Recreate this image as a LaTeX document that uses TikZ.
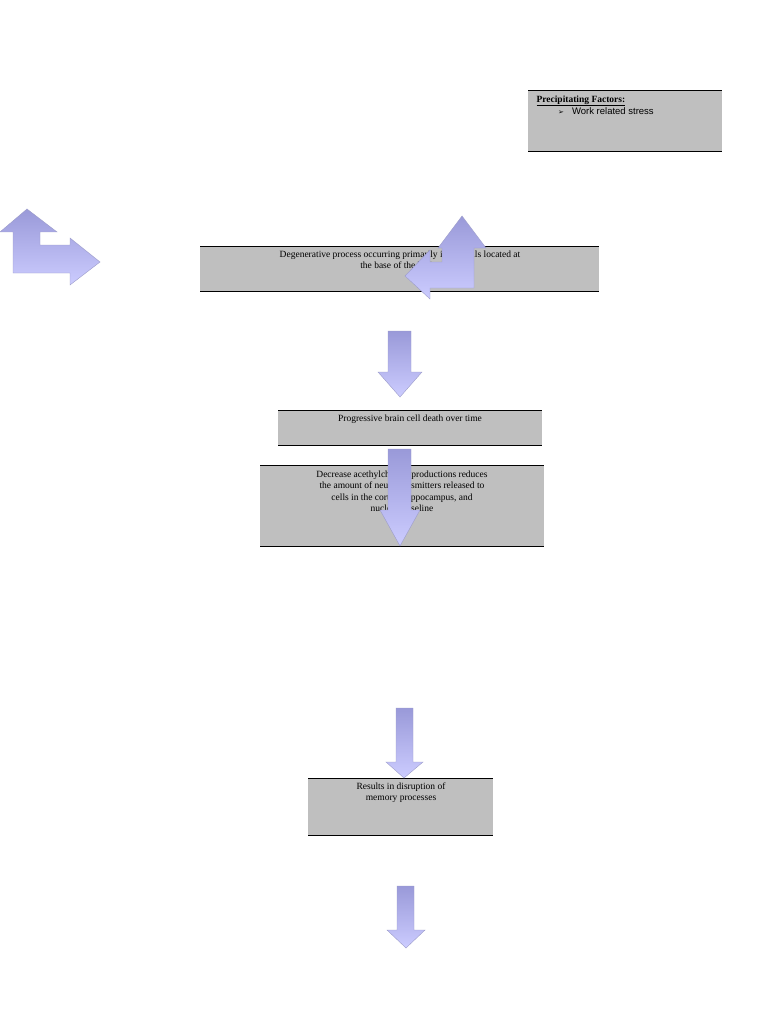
\documentclass[tikz,border=0pt]{standalone}
\usepackage{fontspec}
\setmainfont{Liberation Serif}
\newfontfamily\arialf{Liberation Sans}
\newfontfamily\symf{DejaVu Sans}
\begin{document}
\begin{tikzpicture}[x=1pt,y=-1pt,
  gbox/.style={fill=gray!50},
  blk/.style={draw=blue!30!gray!60,line width=0.4pt,left color=blue!45!gray!55,right color=blue!20!white,shading angle=0},
  txt/.style={font=\fontsize{9.5}{11.5}\selectfont,align=center,anchor=north}]
\useasboundingbox (0,0) rectangle (768,1024);
\newcommand\gboxat[4]{\fill[gray!50] (#1,#2) rectangle (#3,#4);
  \draw[line width=0.8pt] (#1,#2)--(#3,#2) (#1,#4)--(#3,#4);}
\gboxat{528}{90}{722}{151}
\gboxat{200}{246}{599}{291}
\gboxat{278}{410}{542}{445}
\gboxat{260}{465}{544}{546}
\gboxat{308}{778}{493}{835}
\node[txt,anchor=north west,font=\fontsize{9.5}{11.5}\selectfont\bfseries] (pf) at (533,92) {\underline{Precipitating Factors:}};
\node[anchor=north west,inner sep=0pt,font=\fontsize{9.5}{11.5}\selectfont] (wr) at (558,107) {{\symf\fontsize{7}{9}\selectfont ➢}\hspace{8pt}{\arialf Work related stress}};
\node[txt] (deg) at (400,247) {Degenerative process occurring primarily in the cells located at\\the base of the brain.};
\node[txt] (prog) at (410,411) {Progressive brain cell death over time};
\node[txt] (dec) at (402,467) {Decrease acethylcholine productions reduces\\the amount of neurotransmitters released to\\cells in the cortex, hippocampus, and\\nucleus baseline};
\node[txt] (res) at (401,779) {Results in disruption of\\memory processes};
% bent arrow left
\shade[blk] (27,209)--(57,232)--(40,232)--(40,245)--(70,245)--(70,238)--(100,262)--(70,285)--(70,273)--(13,273)--(13,232)--(0,232)--cycle;
% bent arrow right
\shade[blk] (462,216)--(486,248)--(474,248)--(474,288)--(430,288)--(430,299)--(405,276)--(430,250)--(430,262)--(442,262)--(442,248)--(438,248)--cycle;
% down arrows
\shade[blk] (388,331)--(411,331)--(411,372)--(422,372)--(400,397)--(378,372)--(388,372)--cycle;
\shade[blk] (388,449)--(411,449)--(411,510)--(420,510)--(400,546)--(380,510)--(388,510)--cycle;
\shade[blk] (396,708)--(413,708)--(413,762)--(423,762)--(404,778)--(386,762)--(396,762)--cycle;
\shade[blk] (397,886)--(414,886)--(414,930)--(425,930)--(406,948)--(387,930)--(397,930)--cycle;
\end{tikzpicture}
\end{document}
